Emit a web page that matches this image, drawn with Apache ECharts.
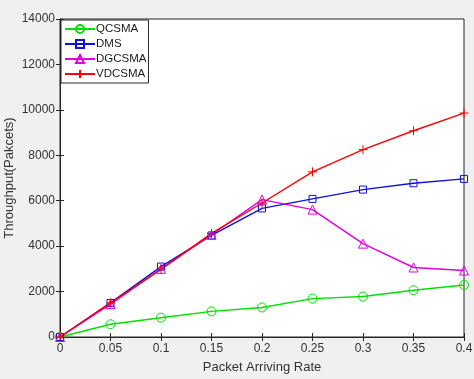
<!DOCTYPE html>
<html><head><meta charset="utf-8">
<script src="https://cdn.jsdelivr.net/npm/echarts@6/dist/echarts.min.js"></script>
<style>html,body{margin:0;padding:0;background:#f0f0f0;}#c{width:474px;height:379px;}</style>
</head><body><div id="c"></div>
<script>
const xLabels = ['0','0.05','0.1','0.15','0.2','0.25','0.3','0.35','0.4'];
const xValues = [0,0.05,0.1,0.15,0.2,0.25,0.3,0.35,0.4];
const qcsma = [0,560,850,1130,1300,1690,1780,2060,2290];
const dms = [0,1500,3100,4470,5660,6080,6490,6770,6960];
const dgcsma = [0,1450,3000,4500,6050,5610,4110,3060,2925];
const vdcsma = [0,1500,2980,4560,5900,7270,8250,9080,9860];
const seriesNames = ['QCSMA','DMS','DGCSMA','VDCSMA'];

const font = 'Liberation Sans, Arial, sans-serif';
const txt = '#333333';
const axisCol = '#262626';
function pairs(v){ return xValues.map((x,i)=>[x,v[i]]); }
function mk(name, data, color, symbol, size){
  return {
    name, type:'line', data:pairs(data), symbol, symbolSize:size,
    xAxisIndex:0, yAxisIndex:0,
    lineStyle:{color, width:1.4},
    itemStyle:{color:'rgba(255,255,255,0)', borderColor:color, borderWidth:1},
    emphasis:{disabled:true}, animation:false
  };
}
const plus = 'path://M5,0L5,10M0,5L10,5';
const tick = {show:true, inside:true, length:4, lineStyle:{color:axisCol, width:1}};
const chart = echarts.init(document.getElementById('c'));
chart.setOption({
  backgroundColor:'#f0f0f0',
  animation:false,
  grid:{left:60, top:19, right:10, bottom:42, outerBoundsMode:'none', containLabel:false,
    show:true, backgroundColor:'#ffffff', borderColor:axisCol, borderWidth:1},
  legend:{
    orient:'vertical', left:61, top:20, data:seriesNames,
    backgroundColor:'#ffffff', borderColor:axisCol, borderWidth:1, borderRadius:0,
    padding:[3,2,3,3], itemGap:3, itemWidth:30, itemHeight:10,
    textStyle:{fontFamily:font, fontSize:11.5, color:'#1a1a1a', padding:[0,0,0,-4]}
  },
  xAxis:[{
    type:'value', min:0, max:0.4, interval:0.05,
    name:'Packet Arriving Rate', nameLocation:'middle', nameGap:24, nameMoveOverlap:false,
    nameTextStyle:{fontFamily:font, fontSize:13, color:txt},
    axisLine:{show:true, lineStyle:{color:axisCol}},
    axisTick:tick,
    axisLabel:{fontFamily:font, fontSize:12, color:txt, margin:6,
      formatter:(v)=>{const i=xValues.findIndex(x=>Math.abs(x-v)<1e-9); return i>=0?xLabels[i]:'';}},
    splitLine:{show:false}
  },{
    type:'value', position:'top', min:0, max:0.4, interval:0.05,
    axisLine:{show:true, lineStyle:{color:axisCol}}, axisTick:tick,
    axisLabel:{show:false}, splitLine:{show:false}
  }],
  yAxis:[{
    type:'value', min:0, max:14000, interval:2000,
    name:'Throughput(Pakcets)', nameLocation:'middle', nameGap:44, nameMoveOverlap:false,
    nameTextStyle:{fontFamily:font, fontSize:13, color:txt},
    axisLine:{show:true, lineStyle:{color:axisCol}},
    axisTick:tick,
    axisLabel:{fontFamily:font, fontSize:12, color:txt, margin:5, formatter:(v)=>String(v)},
    splitLine:{show:false}
  },{
    type:'value', position:'right', min:0, max:14000, interval:2000,
    axisLine:{show:true, lineStyle:{color:axisCol}},
    axisTick:tick,
    axisLabel:{show:false}, splitLine:{show:false}
  }],
  series:[
    mk('QCSMA', qcsma, '#00e000', 'circle', 9),
    mk('DMS', dms, '#1010e0', 'rect', 7),
    mk('DGCSMA', dgcsma, '#e000e0', 'triangle', 9),
    mk('VDCSMA', vdcsma, '#ff0000', plus, 9),
    {type:'line', xAxisIndex:1, yAxisIndex:1, data:[], silent:true}
  ]
});
</script></body></html>
